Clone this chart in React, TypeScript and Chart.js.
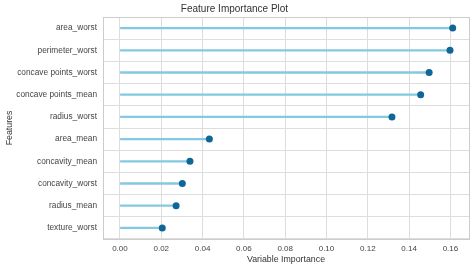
import React, { useEffect, useRef } from "react";
import { Chart, registerables } from "chart.js";

Chart.register(...registerables);

const features = [
  "area_worst",
  "perimeter_worst",
  "concave points_worst",
  "concave points_mean",
  "radius_worst",
  "area_mean",
  "concavity_mean",
  "concavity_worst",
  "radius_mean",
  "texture_worst",
];
const importance = [0.1611, 0.1598, 0.1497, 0.1456, 0.1317, 0.0433, 0.0339, 0.0302, 0.0272, 0.0205];

const FONT = "'Liberation Sans', Arial, sans-serif";

const framePlugin = {
  id: "frame",
  afterDraw(chart: any) {
    const { ctx, chartArea } = chart;
    ctx.save();
    ctx.strokeStyle = "#cccccc";
    ctx.lineWidth = 1;
    ctx.strokeRect(
      Math.round(chartArea.left) + 0.5,
      Math.round(chartArea.top) + 0.5,
      Math.round(chartArea.right - chartArea.left),
      Math.round(chartArea.bottom - chartArea.top)
    );
    ctx.restore();
  },
};

export default function App() {
  const ref = useRef<HTMLCanvasElement>(null);
  useEffect(() => {
    document.body.style.margin = "0";
    const chart = new Chart(ref.current as HTMLCanvasElement, {
      type: "bar",
      data: {
        labels: features,
        datasets: [
          {
            type: "bar",
            data: importance,
            backgroundColor: "#86c8e2",
            borderWidth: 0,
            barThickness: 1.6,
            order: 2,
          },
          {
            type: "line",
            data: importance,
            showLine: false,
            pointRadius: 3.5,
            pointBackgroundColor: "#0e6797",
            pointBorderColor: "#0e6797",
            pointBorderWidth: 0,
            order: 1,
          } as any,
        ],
      },
      options: {
        indexAxis: "y",
        animation: false,
        responsive: false,
        layout: { padding: { right: 5, top: 0, left: 0, bottom: 0 } },
        plugins: {
          legend: { display: false },
          tooltip: { enabled: false },
          title: {
            display: true,
            text: "Feature Importance Plot",
            color: "#333333",
            font: { family: FONT, size: 10, weight: "normal" },
            padding: { top: 3, bottom: 2 },
          },
        },
        scales: {
          x: {
            type: "linear",
            min: -0.0082,
            max: 0.169,
            grid: { color: "#dddddd", drawTicks: false },
            border: { color: "#cccccc" },
            ticks: {
              stepSize: 0.02,
              includeBounds: false,
              padding: 5,
              color: "#444444",
              font: { family: FONT, size: 8 },
              callback: (v: any) => Number(v).toFixed(2),
            },
            title: {
              display: true,
              text: "Variable Importance",
              color: "#333333",
              font: { family: FONT, size: 8.8 },
              padding: { top: 0, bottom: 6 },
            },
            afterFit: (s: any) => {
              s.height = 32;
            },
          },
          y: {
            type: "category",
            grid: { color: "#dddddd", drawTicks: false },
            border: { color: "#cccccc" },
            ticks: {
              padding: 6,
              color: "#444444",
              font: { family: FONT, size: 8.3 },
            },
            title: {
              display: true,
              text: "Features",
              color: "#333333",
              font: { family: FONT, size: 8.8 },
              padding: { top: 4, bottom: 0 },
            },
            afterFit: (s: any) => {
              s.width = 103;
            },
          },
        },
      },
      plugins: [framePlugin],
    });
    return () => chart.destroy();
  }, []);
  return <canvas ref={ref} width={474} height={271} style={{ display: "block" }} />;
}
